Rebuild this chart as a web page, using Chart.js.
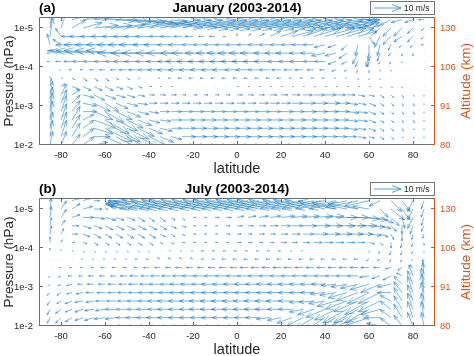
<!DOCTYPE html>
<html><head><meta charset="utf-8">
<script src="https://cdn.jsdelivr.net/npm/chart.js@4/dist/chart.umd.min.js"></script>
<style>
html,body{margin:0;padding:0;background:#fff;}
#wrap{position:relative;width:474px;height:356px;overflow:hidden;background:#fff;}
canvas{position:absolute;left:0;}
</style></head><body>
<div id="wrap">
<canvas id="ca" width="474" height="178" style="top:0px"></canvas>
<canvas id="cb" width="474" height="175" style="top:181px"></canvas>
</div>
<script>
// ---------- data ----------
const LAT = [-85,-80,-75,-70,-65,-60,-55,-50,-45,-40,-35,-30,-25,-20,-15,-10,-5,0,5,10,15,20,25,30,35,40,45,50,55,60,65,70,75,80,85];
// pressure levels (hPa), top row first
const P_LEVELS = [6.1e-6,1.0e-5,1.64e-5,2.68e-5,4.39e-5,7.2e-5,1.18e-4,1.93e-4,3.16e-4,5.18e-4,8.48e-4,1.39e-3,2.28e-3,3.73e-3,6.11e-3,1.0e-2];
const X_TICKS = [-80,-60,-40,-20,0,20,40,60,80];
const P_TICKS = [1e-5,1e-4,1e-3,1e-2];
const P_TICK_LABELS = ['1e-5','1e-4','1e-3','1e-2'];
const ALT_TICK_LABELS = ['130','106','91','80'];
const REF_SPEED = 10;
const REF_LABEL = '10 m/s';

// January: meridional wind (m/s, + northward) and scaled vertical wind (+ upward)
const JAN_U = [
[1,4,8,10,11,12,13,14,15,16,16,17,17,17,17,17,17,17,17,17,17,16,16,15,15,14,12,10,7,4,-2,-4,-4,-3,-2],
[1,2,5,7,9,10,11,12,13,14,15,15,15,16,16,16,16,16,16,16,16,15,15,15,14,14,13,11,8,4,-2,-3,-3,-2,-1],
[1,-2,-4,-5,-5,-5,-5,-5,-5,-5,-4,-4,-3,-3,-2,-2,-1,0,1,2,4,6,8,9,10,11,11,10,7,2,-2,-3,-3,-2,-1],
[-1,-3,-6,-7,-7,-7,-7,-7,-7,-6,-6,-5,-5,-4,-4,-4,-4,-4,-4,-4,-4,-4,-4,-4,-4,-4,-3,-2,-1,0,-1,-1,-1,-1,-1],
[-1,-5,-8,-10,-11,-11,-11,-11,-10,-10,-9,-9,-8,-8,-7,-7,-7,-7,-7,-7,-6,-6,-6,-5,-5,-5,-4,-3,-2,-1,-1,-1,0,0,0],
[-1,-2,-3,-4,-4,-4,-4,-5,-5,-5,-5,-5,-6,-6,-6,-6,-6,-6,-6,-6,-6,-5,-5,-5,-4,-4,-3,-2,-1,-0.5,-0.5,-0.5,0,0,0],
[0,-0.5,-1,-1,-1.5,-2,-2,-3,-3.5,-4,-4.5,-5,-5,-5,-5,-5,-5,-4.5,-4.5,-4,-4,-3.5,-3,-3,-2.5,-2,-1.5,-1,-0.5,0,0,0,0,0,0],
[0,0.5,1,1.5,1.5,1.5,1,1,0.5,0,-0.5,-1,-1.5,-1.5,-1.5,-1.5,-1.5,-1.5,-1.5,-1.5,-1.5,-1.5,-1,-1,-1,-1,-0.5,-0.5,0,0,0,0,0,0,0],
[0.5,1.5,2.5,3,3,3,2.5,2,1.5,1,0.5,0.5,0,0,0,0,0,0.5,0.5,0.5,0.5,0.5,0.5,0.5,0.5,0.5,0.5,0.5,0.5,0.5,0.5,0.5,0,0,0],
[1,2,3,4,4,4,3.5,3,2.5,2,2,2,1.5,1.5,1.5,1.5,1.5,2,2,2,2.5,2.5,3,3.5,4,4,3.5,3,2.5,2,1.5,1,0.5,0.5,0],
[1,2,3,5,6,5,4.5,4,3.5,3,3,3,3,3,3,3,3,3,3,3.5,3.5,3.5,4,4.5,5,5.5,5,4,3,2.5,1.5,1,0.5,0.5,0],
[1,2,3,5,7,7,6,5,4,3.5,3.5,4,4,4,4,4,4,4,4,4,4,4.5,4.5,5,5,5,5,4.5,3.5,2.5,1.5,1,0.5,0.5,0],
[1,2,3,4,8,9,8,6,5,4,4,4,4.5,4.5,4.5,4.5,4.5,4.5,4.5,4.5,4.5,4.5,5,5,5,5,4.5,4,3.5,2.5,1.5,1,0.5,0.5,0],
[1,2,3,4,7,10,9,8,6,5,4.5,4,5,5,5,5,5,5,5,5,5,5,5,5,5,5,4.5,4,3,2.5,1.5,1,0.5,0.5,0],
[1,2,3,4,6,11,10,9,8,6,5,4,5,5,5,5,5,5,5,5,5,5,5,5,4.5,4.5,4,3.5,3,2,1.5,1,0.5,0.5,0],
[1,2,3,4,5,10,10,10,9,8,6,4,4,4,4,4,4,4,4,4,4,4,4,4,4,4,3.5,3,2.5,2,1,0.5,0.5,0,0]
];
const JAN_W = [
[5,4,2,1,1,0,-1,-1,-2,-2,-3,-3,-3.5,-3.5,-3.5,-3.5,-3.5,-3.5,-3.5,-3.5,-3.5,-3.5,-3.5,-3,-3,-3,-2.5,-1.5,0,0,-1,-2,-1,-1,0],
[6,6,3,2,1,1,1.5,2,2,2.5,3,3,3,3,3,3,3,3,3,3,3,3,3,3,3,3,3,2.5,2,1,-2,-3,-3,-2,-1],
[7,3,0,0,0,0,0,0,0,0,0,0,0,0,0,0,0,1,1,1,2,2,2,3,3,3,3,3,2,-3,-4,-3,-2,-2,-1],
[4,2,0,0,0,0,0,0,0,0,0,0,0,0,0,0,0,0,0,0,0,0,0,0,0,-1,-1,-2,-4,-6,-4,-2,-1,-1,0],
[0,1,1,1,1,1,1,0,0,0,0,0,0,0,0,0,0,0,0,0,0,0,0,0,0,-1,-1,-2,-4,-5,-3,-1,-1,-1,0],
[0,0,0,0,0,0,0,0,0,0,0,0,0,0,0,0,0,0,0,0,0,0,0,0,0,0,-1,-1,-2,-2,-1,-1,-0.5,0,0],
[0,0,0,0,0,0,0,0,0,0,0,0,0,0,0,0,0,0,0,0,0,0,0,0,0,0,-0.5,-0.5,-1,-1,-0.5,-0.5,0,0,0],
[0.5,0,-0.5,-1,-1,-1,-0.5,-0.5,0,0,0,0,0,0,0,0,0,0,0,0,0,0,0,0,0,0,0,0,-0.5,-0.5,-0.5,0,0,0,0],
[3,1,-1,-1.5,-1.5,-1.5,-1,-1,-0.5,0,0,0,0,0,0,0,0,0,0,0,0,0,0,0,0,0,0,0,0,0,-0.5,-0.5,-0.5,0,0],
[5,4,2,-1,-2,-1.5,-1,-1,-0.5,0,0,0,0,0,0,0,0,0,0,0,0,0,0,0,0,0,0,0,-0.5,-0.5,-1,-1,-1,-0.5,-0.5],
[6,5,3,-1,-3,-3,-2,-1,-0.5,0,0,0,0,0,0,0,0,0,0,0,0,0,0,0,0,0,0,-0.5,-0.5,-1,-1,-1,-1,-1,-0.5],
[7,6,4,0,-3,-4,-3,-2,-1,-0.5,0,0,0,0,0,0,0,0,0,0,0,0,0,0,0,0,0,-0.5,-0.5,-1,-1,-1,-1,-1,-0.5],
[7,6,5,2,-3,-5,-4,-3,-2,-1,-0.5,0,0,0,0,0,0,0,0,0,0,0,0,0,0,0,0,-0.5,-0.5,-1,-1,-1,-1,-1,-0.5],
[6,6,5,3,-2,-5,-5,-4,-3,-2,-1,0,0,0,0,0,0,0,0,0,0,0,0,0,0,0,0,-0.5,-0.5,-1,-1,-1,-1,-0.5,-0.5],
[6,6,5,3,0,-5,-5,-5,-4,-3,-2,-1,0,0,0,0,0,0,0,0,0,0,0,0,0,0,0,0,-0.5,-0.5,-1,-1,-0.5,-0.5,-0.5],
[5,5,4,3,1,-3,-4,-4,-4,-3,-2,-1,0,0,0,0,0,0,0,0,0,0,0,0,0,0,0,0,0,0,-0.5,-0.5,-0.5,0,0]
];
// July
const JUL_U = [
[0.5,2,3,3,2,0,-3,-8,-12,-14,-15,-16,-16,-17,-17,-17,-17,-17,-17,-17,-17,-17,-17,-16,-16,-16,-15,-14,-12,-9,-4,4,3,-2,-1],
[0.5,2,3,3.5,3,1,-2,-7,-11,-13,-14,-15,-15,-16,-16,-16,-16,-16,-16,-16,-16,-16,-16,-15,-15,-15,-14,-13,-11,-6,3,5,3,-2,-1],
[0.5,2,3,4,4,4,3,3,2.5,2,2,1.5,1,1,1,1.5,2,2.5,3,3.5,4,5,5.5,6,7,7,8,8,8,7,5,3,1,-2,-1],
[0.5,1.5,2.5,3,3,3,3,3,3,3,2.5,2,1.5,1,1,1,1.5,2,2,2.5,3,3.5,4,5,6,6.5,7,7,7,6,4,2,0,-1,-1],
[0.5,1,2,2.5,2.5,2.5,2.5,2.5,2.5,2.5,2,1.5,1,1,1,1,1.5,1.5,1.5,2,2,2.5,3,4,5,5.5,6,6,5.5,4.5,3,1,0,-0.5,-0.5],
[0,0.5,1,1.5,1.5,1.5,1.5,1.5,1.5,1.5,1,1,1,1,1,1,1,1.5,1.5,1.5,1.5,2,2,2.5,3,3,3,3,2.5,2,1,0,-0.5,-0.5,0],
[0,0,0.5,0.5,0.5,0.5,0.5,0.5,0.5,0,0,-0.5,-0.5,-0.5,-1,-1,-1,-1,-1,-1,-1,-1,-0.5,-0.5,0,0,0,0,0,0,-0.5,-0.5,-0.5,-0.5,0],
[0,0,0,-0.5,-0.5,-0.5,-0.5,-0.5,-1,-1,-1,-1,-1,-1,-1,-1,-1.5,-1.5,-1.5,-1.5,-1.5,-1.5,-1.5,-1.5,-1.5,-1.5,-1.5,-1.5,-1.5,-1,-1,-0.5,-0.5,-0.5,0],
[0,-0.5,-1,-1,-1,-1.5,-1.5,-1.5,-1.5,-2,-2,-2,-2.5,-2.5,-2.5,-2.5,-2.5,-2.5,-3,-3,-3,-3,-3,-3,-3,-3,-3,-3,-3,-3,-2.5,-2,-1.5,-1,-0.5],
[-0.5,-1,-1.5,-1.5,-2,-2,-2,-2.5,-3,-3,-3.5,-3.5,-3.5,-4,-4,-4,-4,-4,-4,-4,-4,-4,-4,-4,-4,-4,-4,-4,-4,-3.5,-3,-3,-2,-1.5,-0.5],
[-0.5,-1,-2,-2,-2.5,-2.5,-3,-3,-3.5,-3.5,-4,-4,-4.5,-4.5,-4.5,-5,-5,-5,-5,-5,-5,-5,-5,-5,-5,-5,-5.5,-6,-6.5,-7,-7,-5,-3,-2,-1],
[-1,-1.5,-2,-2.5,-3,-3,-3,-3.5,-3.5,-4,-4,-4.5,-4.5,-5,-5,-5,-5,-5,-5,-5,-5,-5,-5,-5,-5,-5.5,-6,-7,-8,-8,-8,-5,-3,-2,-1],
[-1,-1.5,-2.5,-3,-3,-3.5,-3.5,-3.5,-4,-4,-4.5,-5,-5,-5,-5.5,-5.5,-5.5,-5.5,-5.5,-5.5,-5.5,-5.5,-5,-5,-5.5,-6,-7,-8,-9,-9,-8,-4,-3,-2,-1],
[-1,-2,-2.5,-3,-3.5,-3.5,-4,-4,-4,-4.5,-4.5,-5,-5,-5,-5.5,-5.5,-5.5,-5.5,-5.5,-5.5,-5.5,-5,-5,-5,-6,-7,-8,-9,-9,-9,-7,-4,-3,-2,-1],
[-1,-2,-2.5,-3,-3.5,-4,-4,-4,-4.5,-4.5,-5,-5,-5,-5,-5,-5,-5,-5,-5,-5,-5,-5,-5.5,-6,-7,-8,-9,-10,-10,-9,-6,-4,-3,-2,-1],
[-1,-1.5,-2,-2.5,-3,-3.5,-3.5,-4,-4,-4,-4,-4,-4,-4,-4,-4,-4,-4,-4,-4,-4,-4.5,-5,-6,-8,-9,-10,-10,-9,-8,-5,-4,-3,-2,-1]
];
const JUL_W = [
[3,2,1,1,0,0,0,-1,-1.5,-2,-3,-3,-3,-3,-3,-3,-3,-3,-3,-3,-3,-3,-3,-3,-3,-3,-3,-3,-2.5,-2,-2,-4,-4,-4,-3],
[4,3,2,1,0,0,1,1.5,2.5,3,3.5,3.5,3.5,3.5,3.5,3.5,3.5,3.5,3.5,3.5,3.5,3.5,3.5,3.5,3.5,3.5,3,2.5,2,1,-3,-4,-4,-4,-3],
[4,3,1,0,-0.5,-1,-1,-1,-1.5,-1.5,-1.5,-1,-1,0,0,0,0,0.5,0.5,0.5,0.5,0.5,0.5,0.5,0.5,0.5,0,0,-0.5,-1,-2,-3,-4,-4,-3],
[3,2,0,-1,-1,-1.5,-1.5,-1.5,-1.5,-1.5,-1.5,-1,-0.5,0,0,0,0,0,0,0,0,0,0,0,0,0,0,0,0,-0.5,-1,-2,-3,-3,-2],
[3,2,0,-1,-1.5,-1.5,-1.5,-1.5,-1.5,-1.5,-1,-1,-0.5,0,0,0,0,0,0,0,0,0,0,0,0,0,0,0,0,-0.5,-1,-2,-2.5,-2,-1.5],
[2,1,0,-0.5,-1,-1,-1,-1,-1,-1,-0.5,-0.5,0,0,0,0,0,0,0,0,0,0,0,0,0,0,0,0,0,-0.5,-1,-2,-2,-1.5,-1],
[1,0.5,0,-0.5,-0.5,-0.5,-0.5,-0.5,-0.5,-0.5,0,0,0,0,0,0,0,0,0,0,0,0,0,0,0,0,0,0,0,-0.5,-1,-1.5,-1.5,-1,-0.5],
[0,0,0,0,0,0,0,0,0,0,0.5,0.5,0.5,0.5,0,0,0,0,0,0,0,0,0,0,0,0,0,0,0,-0.5,-0.5,-1,-1,-0.5,0],
[0,0,0,0,0,0,0,0,0,0,0,0,0,0,0,0,0,0,0,0,0,0,0,0,0,0,0,0,0,0,0,-0.5,-1,1,3],
[-0.5,-0.5,0,0,0,0,0,0,0,0,0,0,0,0,0,0,0,0,0,0,0,0,0,0,0,0,0,0,0,-0.5,-1,-1.5,1,4,5],
[-0.5,-0.5,-0.5,0,0,0,0,0,0,0,0,0,0,0,0,0,0,0,0,0,0,0,0,0,0,0,-0.5,-1,-1.5,-2,-3,-1,3,5,6],
[-1,-1,-0.5,-0.5,0,0,0,0,0,0,0,0,0,0,0,0,0,0,0,0,0,0,0,0,0,-0.5,-1,-2,-3,-4,-4,0,4,6,7],
[-1.5,-1,-1,-0.5,-0.5,0,0,0,0,0,0,0,0,0,0,0,0,0,0,0,0,0,0,-0.5,-0.5,-1,-2,-3,-4,-5,-4,2,5,6,7],
[-2,-1.5,-1,-1,-0.5,-0.5,0,0,0,0,0,0,0,0,0,0,0,0,0,0,0,0,0,-1,-2,-3,-4,-5,-5,-5,-2,3,5,6,6],
[-2,-2,-1.5,-1,-1,-0.5,-0.5,0,0,0,0,0,0,0,0,0,0,0,0,0,-0.5,-1,-2,-3,-4,-5,-5,-5,-4,-3,0,3,5,6,6],
[-2,-2,-1.5,-1,-1,-1,-0.5,0,0,0,0,0,0,0,0,0,0,0,0,0,-1,-2,-3,-4,-4,-4,-4,-3,-2,-1,1,3,4,5,5]
];

// ---------- rendering ----------
const FONT = "'Liberation Sans', Arial, Helvetica, sans-serif";
const ORANGE = '#D95319';
const AXIS = '#262626';
const ARROW = '#1a7fcc';
const PX_PER_UNIT = 2.7;   // 10 m/s key arrow = 27 px
Chart.defaults.font.family = FONT;

function drawArrow(ctx, x0, y0, dx, dy) {
  const L = Math.hypot(dx, dy);
  if (L < 0.4) { ctx.moveTo(x0, y0); ctx.lineTo(x0 + 0.4, y0); return; }
  const x1 = x0 + dx, y1 = y0 + dy;
  ctx.moveTo(x0, y0); ctx.lineTo(x1, y1);
  const h = Math.min(0.33 * L, 9), hw = h * 0.38;
  const ux = dx / L, uy = dy / L;
  ctx.moveTo(x1 - h * ux - hw * uy, y1 - h * uy + hw * ux);
  ctx.lineTo(x1, y1);
  ctx.lineTo(x1 - h * ux + hw * uy, y1 - h * uy - hw * ux);
}

function quiverPlugin(U, W, tag, title) {
  return {
    id: 'quiver',
    afterDraw(chart) {
      const ctx = chart.ctx, a = chart.chartArea;
      const xs = chart.scales.x, ys = chart.scales.y, ys2 = chart.scales.y2;
      // arrows
      ctx.save();
      ctx.beginPath(); ctx.rect(a.left, a.top, a.right - a.left, a.bottom - a.top); ctx.clip();
      ctx.strokeStyle = ARROW; ctx.globalAlpha = 0.72; ctx.lineWidth = 0.8; ctx.lineJoin = 'round';
      ctx.beginPath();
      P_LEVELS.forEach((p, k) => {
        const py = ys.getPixelForValue(p);
        LAT.forEach((lat, c) => {
          const px = xs.getPixelForValue(lat);
          drawArrow(ctx, px, py, U[k][c] * PX_PER_UNIT, -W[k][c] * PX_PER_UNIT);
        });
      });
      ctx.stroke();
      ctx.restore();
      // box
      ctx.save();
      ctx.lineWidth = 1;
      ctx.strokeStyle = '#6e6e6e';
      ctx.beginPath();
      ctx.moveTo(a.left + 0.5, a.top + 0.5); ctx.lineTo(a.right - 0.5, a.top + 0.5);
      ctx.moveTo(a.left + 0.5, a.top + 0.5); ctx.lineTo(a.left + 0.5, a.bottom - 0.5);
      ctx.moveTo(a.left + 0.5, a.bottom - 0.5); ctx.lineTo(a.right - 0.5, a.bottom - 0.5);
      X_TICKS.forEach(v => {
        const px = Math.round(xs.getPixelForValue(v)) + 0.5;
        ctx.moveTo(px, a.bottom); ctx.lineTo(px, a.bottom - 4);
        ctx.moveTo(px, a.top); ctx.lineTo(px, a.top + 4);
      });
      P_TICKS.forEach(v => {
        const py = Math.round(ys.getPixelForValue(v)) - 0.5;
        ctx.moveTo(a.left, py); ctx.lineTo(a.left + 4, py);
      });
      ctx.stroke();
      ctx.strokeStyle = ORANGE;
      ctx.beginPath();
      ctx.moveTo(a.right - 0.5, a.top); ctx.lineTo(a.right - 0.5, a.bottom);
      P_TICKS.forEach(v => {
        const py = Math.round(ys2.getPixelForValue(v)) - 0.5;
        ctx.moveTo(a.right, py); ctx.lineTo(a.right - 4, py);
      });
      ctx.stroke();
      // titles
      ctx.fillStyle = '#000';
      ctx.font = 'bold 13.5px ' + FONT;
      ctx.textBaseline = 'middle';
      ctx.textAlign = 'left';
      ctx.fillText(tag, a.left, 8.5);
      ctx.textAlign = 'center';
      ctx.fillText(title, (a.left + a.right) / 2, 8.5);
      // axis titles
      ctx.fillStyle = AXIS;
      ctx.font = '14.5px ' + FONT;
      ctx.fillText('latitude', (a.left + a.right) / 2, a.bottom + 24);
      ctx.font = '13.5px ' + FONT;
      ctx.save();
      ctx.translate(9, (a.top + a.bottom) / 2); ctx.rotate(-Math.PI / 2);
      ctx.fillText('Pressure (hPa)', 0, 0);
      ctx.restore();
      ctx.save();
      ctx.fillStyle = ORANGE;
      ctx.translate(466, (a.top + a.bottom) / 2); ctx.rotate(-Math.PI / 2);
      ctx.fillText('Altitude (km)', 0, 0);
      ctx.restore();
      // key box
      const bx = 370.5, by = 1.5, bw = 64, bh = 13;
      ctx.fillStyle = '#fff'; ctx.fillRect(bx, by, bw, bh);
      ctx.strokeStyle = '#777'; ctx.lineWidth = 1; ctx.strokeRect(bx, by, bw, bh);
      ctx.strokeStyle = ARROW; ctx.globalAlpha = 0.8; ctx.lineWidth = 0.9;
      ctx.beginPath(); drawArrow(ctx, 374, 8, REF_SPEED * PX_PER_UNIT, 0); ctx.stroke();
      ctx.globalAlpha = 1;
      ctx.fillStyle = AXIS; ctx.font = '8.5px ' + FONT; ctx.textAlign = 'left';
      ctx.fillText(REF_LABEL, 404, 8.5);
      ctx.restore();
    }
  };
}

function makeChart(id, U, W, tag, title, xHeight) {
  const yCommon = {
    type: 'logarithmic', reverse: true, min: 5.2e-6, max: 1e-2,
    grid: { display: false, drawTicks: false }, border: { display: false },
    afterBuildTicks: s => { s.ticks = P_TICKS.map(v => ({ value: v })); }
  };
  return new Chart(document.getElementById(id), {
    type: 'scatter',
    data: { datasets: [{ data: [], pointRadius: 0 }] },
    options: {
      responsive: false, animation: false, devicePixelRatio: 1,
      layout: { padding: { top: 17, left: 0, right: 0, bottom: 0 } },
      plugins: { legend: { display: false }, tooltip: { enabled: false }, title: { display: false } },
      scales: {
        x: {
          type: 'linear', min: -90, max: 90,
          grid: { display: false, drawTicks: false }, border: { display: false },
          afterBuildTicks: s => { s.ticks = X_TICKS.map(v => ({ value: v })); },
          ticks: { color: AXIS, font: { size: 9.5 }, padding: 5, maxRotation: 0, callback: v => String(v) },
          afterFit: s => { s.height = xHeight; }
        },
        y: Object.assign({}, yCommon, {
          position: 'left',
          ticks: { color: AXIS, font: { size: 9.5 }, padding: 6, callback: (v, i) => P_TICK_LABELS[i] },
          afterFit: s => { s.width = 39; }
        }),
        y2: Object.assign({}, yCommon, {
          position: 'right',
          ticks: { color: ORANGE, font: { size: 9.5 }, padding: 5, callback: (v, i) => ALT_TICK_LABELS[i] },
          afterFit: s => { s.width = 39; }
        })
      }
    },
    plugins: [quiverPlugin(U, W, tag, title)]
  });
}

makeChart('ca', JAN_U, JAN_W, '(a)', 'January (2003-2014)', 33);
makeChart('cb', JUL_U, JUL_W, '(b)', 'July (2003-2014)', 30);
</script>
</body></html>
